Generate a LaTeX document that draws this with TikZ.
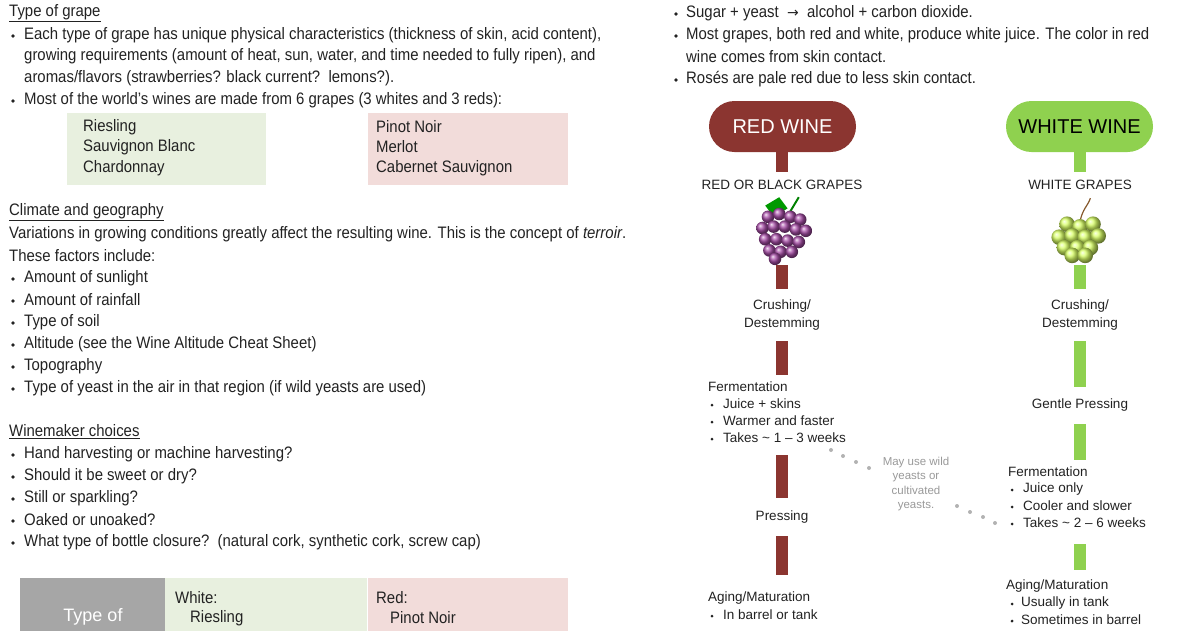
\documentclass[tikz,border=0pt]{standalone}
\usepackage{fontspec}
\setmainfont{Liberation Sans}[FakeStretch=0.9]
\newfontfamily\flowfont{Liberation Sans}
\newfontfamily\symfont{DejaVu Sans}
\usetikzlibrary{shapes.misc}
\definecolor{redwine}{HTML}{8B3530}
\definecolor{whitewine}{HTML}{8FD14F}
\definecolor{lgreen}{HTML}{E8F0DF}
\definecolor{lpink}{HTML}{F2DCDA}
\definecolor{dgrey}{HTML}{A6A6A6}
\definecolor{txt}{HTML}{222222}
\begin{document}
\begin{tikzpicture}[x=1pt,y=-1pt,
  body/.style={anchor=west,inner sep=0,font=\fontsize{16.6}{18}\selectfont,text=txt},
  dotb/.style={circle,fill=txt,inner sep=0,minimum size=3.6pt},
  flow/.style={inner sep=0,font=\flowfont\fontsize{13.5}{17.5}\selectfont,text=txt},
  flowl/.style={flow,anchor=west},
  stem/.style={line width=12pt},
  pill/.style={rounded rectangle,minimum width=147pt,minimum height=51pt,font=\flowfont\fontsize{20}{22}\selectfont,inner sep=0},
  gdot/.style={circle,fill=gray!60,inner sep=0,minimum size=4pt}]
\useasboundingbox (0,0) rectangle (1200,630);
\clip (0,0) rectangle (1200,630);
% ---------- left column ----------
\node[body] (h1) at (9,13) {\underline{Type of grape}};
\foreach \y/\t [count=\i] in {35/{Each type of grape has unique physical characteristics (thickness of skin, acid content),},
 56/{growing requirements (amount of heat, sun, water, and time needed to fully ripen), and},
 78/{aromas/flavors (strawberries? black current?\ \ lemons?).},
 100/{Most of the world's wines are made from 6 grapes (3 whites and 3 reds):}}
 {\node[body] (a\i) at (24,\y) {\t};}
\node[dotb] (b1) at (13,36) {};
\node[dotb] (b2) at (13,101) {};
\fill[lgreen] (67,113) rectangle (266,185);
\fill[lpink] (368,113) rectangle (568,185);
\node[body] (w1) at (83,127) {Riesling};
\node[body] (w2) at (83,147) {Sauvignon Blanc};
\node[body] (w3) at (83,168) {Chardonnay};
\node[body] (r1) at (376,127) {Pinot Noir};
\node[body] (r2) at (376,147) {Merlot};
\node[body] (r3) at (376,168) {Cabernet Sauvignon};
\node[body] (h2) at (9,212) {\underline{Climate and geography}};
\node[body] (c1) at (9,234) {Variations in growing conditions greatly affect the resulting wine. This is the concept of \textit{terroir}.};
\node[body] (c2) at (9,256) {These factors include:};
\foreach \y/\t [count=\i] in {278/{Amount of sunlight},300/{Amount of rainfall},322/{Type of soil},
 344/{Altitude (see the Wine Altitude Cheat Sheet)},366/{Topography},388/{Type of yeast in the air in that region (if wild yeasts are used)}}
 {\node[dotb] (cb\i) at (13,\y+1) {}; \node[body] (ct\i) at (24,\y) {\t};}
\node[body] (h3) at (9,432) {\underline{Winemaker choices}};
\foreach \y/\t [count=\i] in {454/{Hand harvesting or machine harvesting?},476/{Should it be sweet or dry?},498/{Still or sparkling?},
 520/{Oaked or unoaked?},542/{What type of bottle closure?\ \ (natural cork, synthetic cork, screw cap)}}
 {\node[dotb] (wb\i) at (13,\y+1) {}; \node[body] (wt\i) at (24,\y) {\t};}
\fill[dgrey] (20,578) rectangle (165,640);
\fill[lgreen] (165,578) rectangle (367,640);
\fill[lpink] (368,578) rectangle (568,640);
\node[body,anchor=center,text=white,font=\flowfont\fontsize{18}{20}\selectfont] (t1) at (93,617) {Type of};
\node[body] (t2) at (175,598) {White:};
\node[body] (t3) at (190,618) {Riesling};
\node[body] (t4) at (376,598) {Red:};
\node[body] (t5) at (390,618) {Pinot Noir};
% ---------- right column ----------
\foreach \y/\t [count=\i] in {13/{Sugar + yeast\ \ {\symfont\fontsize{14}{16}\selectfont →}\ \ alcohol + carbon dioxide.},
 35/{Most grapes, both red and white, produce white juice. The color in red},
 57/{wine comes from skin contact.},79/{Ros\'es are pale red due to less skin contact.}}
 {\node[body] (s\i) at (686,\y) {\t};}
\foreach \y [count=\i] in {13,35,79} {\node[dotb] (sb\i) at (676,\y+1) {};}
% stems
\foreach \a/\b in {152/172,265/289,341/375,455/498,536/575}
 \draw[stem,redwine] (782,\a) -- (782,\b);
\foreach \a/\b in {152/172,265/289,341/387,424/460,544/570}
 \draw[stem,whitewine] (1080,\a) -- (1080,\b);
\node[pill,fill=redwine,text=white] (red) at (782.5,126.5) {RED WINE};
\node[pill,fill=whitewine,text=black] (white) at (1079.5,126.5) {WHITE WINE};
\node[flow] (rg) at (782,185) {RED OR BLACK GRAPES};
\node[flow] (wg) at (1080,185) {WHITE GRAPES};
% grapes
\begin{scope}[shift={(782,228)},scale=1.4]
 \fill[green!60!black] (-12,-16) -- (-2,-22) -- (4,-14) -- (-6,-8) -- cycle;
 \draw[green!50!black,line width=2pt] (6,-12) -- (12,-22);
 \foreach \p in {(-10,-8),(-2,-10),(6,-8),(13,-6),(-14,0),(-6,-1),(2,-1),(10,1),(17,2),(-12,8),(-4,8),(4,9),(12,10),(-9,16),(-1,17),(7,17),(-5,22)}
  \shade[ball color=violet!70] \p circle (4.5pt);
\end{scope}
\begin{scope}[shift={(1080,232)},scale=1.3]
 \draw[brown!70!black,line width=1.2pt] (0,-8) .. controls (2,-18) and (6,-20) .. (8,-26);
 \foreach \p in {(-10,-6),(0,-4),(10,-6),(-16,4),(-6,3),(4,4),(14,3),(-12,12),(-2,12),(8,12),(-6,18),(4,18)}
  \shade[ball color=green!25!yellow!60] \p circle (6pt);
\end{scope}
\node[flow,align=center] (rc) at (782,315) {Crushing/\\Destemming};
\node[flow,align=center] (wc) at (1080,315) {Crushing/\\Destemming};
\node[flowl] (rf) at (708,387) {Fermentation};
\foreach \y/\t [count=\i] in {404/{Juice + skins},421/{Warmer and faster},438/{Takes \textasciitilde\ 1 \textendash\ 3 weeks}}
 {\node[dotb,minimum size=3pt] (rfb\i) at (712,\y+1) {}; \node[flowl] (rft\i) at (723,\y) {\t};}
\node[flow] (rp) at (782,517) {Pressing};
\node[flowl] (ra) at (708,598) {Aging/Maturation};
\node[dotb,minimum size=3pt] (rab) at (712,616) {};
\node[flowl] (rat) at (723,615) {In barrel or tank};
\node[flow] (wp) at (1080,405) {Gentle Pressing};
\node[flowl] (wf) at (1008,472) {Fermentation};
\foreach \y/\t [count=\i] in {489/{Juice only},506/{Cooler and slower},523/{Takes \textasciitilde\ 2 \textendash\ 6 weeks}}
 {\node[dotb,minimum size=3pt] (wfb\i) at (1012,\y+1) {}; \node[flowl] (wft\i) at (1023,\y) {\t};}
\node[flowl] (wa) at (1006,586) {Aging/Maturation};
\foreach \y/\t [count=\i] in {603/{Usually in tank},620/{Sometimes in barrel}}
 {\node[dotb,minimum size=3pt] (wab\i) at (1012,\y+1) {}; \node[flowl] (wat\i) at (1021,\y) {\t};}
\node[flow,align=center,text=gray!80,font=\flowfont\fontsize{11.5}{14.5}\selectfont] (yeast) at (916,484) {May use wild\\yeasts or\\cultivated\\yeasts.};
\foreach \x/\y in {831/450,843/456,856/462,869/468,957/506,970/512,983/517,995/523}
 \node[gdot] at (\x,\y) {};
\end{tikzpicture}
\end{document}
